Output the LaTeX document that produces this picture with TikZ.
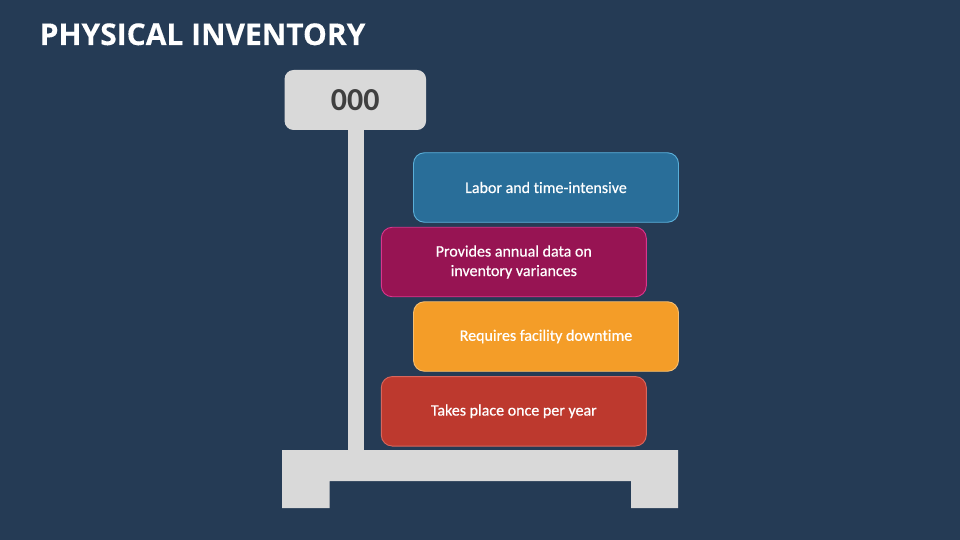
\documentclass[tikz,border=0pt]{standalone}
\usepackage{fontspec}
\setmainfont{Carlito}
\newfontfamily\titlefont[FakeBold=0.25]{Open Sans Bold}
\newfontfamily\cardfont[FakeBold=0.6,Ligatures=NoCommon]{Carlito}
\definecolor{bgnavy}{HTML}{253B55}
\definecolor{scalegray}{HTML}{D9D9D9}
\definecolor{digitgray}{HTML}{404040}
\definecolor{bluefill}{HTML}{296E99}
\definecolor{blueline}{HTML}{5AAFD9}
\definecolor{purplefill}{HTML}{971453}
\definecolor{purpleline}{HTML}{D9368C}
\definecolor{orangefill}{HTML}{F49D28}
\definecolor{orangeline}{HTML}{F8BE6E}
\definecolor{redfill}{HTML}{BD392E}
\definecolor{redline}{HTML}{D9665C}
\tikzset{
  x=1pt,y=-1pt,
  card/.style={minimum width=265pt,minimum height=69.5pt,rounded corners=11pt,line width=0.9pt,inner sep=0pt,align=center,text=white,font=\cardfont\fontsize{16}{19.5}\selectfont,anchor=center},
  scalepart/.style={fill=scalegray,draw=none},
}
\begin{document}
\begin{tikzpicture}
\useasboundingbox (0,0) rectangle (960,540);
\fill[bgnavy] (0,0) rectangle (960,540);
\node[anchor=base west,inner sep=0pt,text=white,font=\titlefont\fontsize{30}{36}\selectfont] (title) at (39.5,45) {PHYSICAL INVENTORY};
\path[scalepart] (348,125) rectangle (364,455);
\path[scalepart] (282,450) -- (678,450) -- (678,508) -- (631,508) -- (631,481) -- (329.5,481) -- (329.5,508) -- (282,508) -- cycle;
\node[scalepart,rounded corners=9pt,minimum width=141.5pt,minimum height=60pt,inner sep=0pt,text=digitgray,font=\fontsize{32}{36}\selectfont\bfseries] (display) at (355.3,100) {000};
\node[card,fill=bluefill,draw=blueline] (labor) at (546,187.5) {Labor and time-intensive};
\node[card,fill=purplefill,draw=purpleline] (annual) at (513.8,262) {Provides annual data on\\inventory variances};
\node[card,fill=orangefill,draw=orangeline] (downtime) at (546,336.5) {Requires facility downtime};
\node[card,fill=redfill,draw=redline] (yearly) at (513.8,411.3) {Takes place once per year};
\end{tikzpicture}
\end{document}
